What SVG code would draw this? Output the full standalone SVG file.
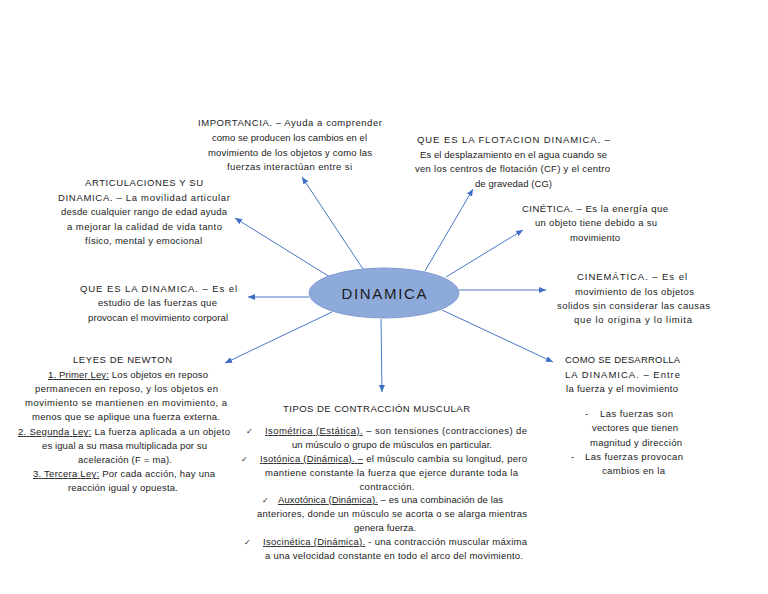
<svg xmlns="http://www.w3.org/2000/svg" width="768" height="594" viewBox="0 0 768 594">
<style>
.t{font-family:"Liberation Sans",Arial,sans-serif;font-size:9.5px;fill:#222;text-anchor:middle}
.s{text-anchor:start}
.u{text-decoration:underline}
.ck{font-family:"DejaVu Sans",sans-serif;font-size:8px;fill:#222}
.c{stroke:#4a76c6;stroke-width:1;fill:none;marker-end:url(#ah)}
</style>
<defs>
<marker id="ah" markerUnits="userSpaceOnUse" markerWidth="8" markerHeight="6" refX="7" refY="3" orient="auto">
<path d="M0,0 L7,3 L0,6 z" fill="#3f6fc4"/>
</marker>
</defs>
<rect width="768" height="594" fill="#fff"/>
<g id="connectors">
<line class="c" x1="363" y1="269" x2="302" y2="177"/>
<line class="c" x1="330" y1="277" x2="235" y2="218"/>
<line class="c" x1="309" y1="297" x2="248" y2="297"/>
<line class="c" x1="332" y1="312" x2="225" y2="363"/>
<line class="c" x1="381" y1="319" x2="382" y2="392"/>
<line class="c" x1="425" y1="271" x2="473" y2="189"/>
<line class="c" x1="446" y1="277" x2="523" y2="230"/>
<line class="c" x1="459" y1="290" x2="546" y2="290"/>
<line class="c" x1="442" y1="310" x2="553" y2="362"/>
</g>
<g id="center">
<ellipse cx="384" cy="293" rx="75" ry="25" fill="#8eaadb" stroke="#7f9bd0" stroke-width="1"/>
<text x="384" y="299" style="font-family:'Liberation Sans',Arial,sans-serif;font-size:15px;fill:#1a1a1a;text-anchor:middle" textLength="85">DINAMICA</text>
</g>
<g id="importancia">
<text class="t" x="290" y="126" textLength="184">IMPORTANCIA.  – Ayuda a comprender</text>
<text class="t" x="289.5" y="141" textLength="155">como se producen los cambios en el</text>
<text class="t" x="290" y="156" textLength="164">movimiento de los objetos y como las</text>
<text class="t" x="289.5" y="170" textLength="125">fuerzas interactúan entre si</text>
</g>
<g id="flotacion">
<text class="t" x="513.5" y="143" textLength="193">QUE ES LA FLOTACION DINAMICA.  –</text>
<text class="t" x="513.5" y="158" textLength="187">Es el desplazamiento en el agua cuando se</text>
<text class="t" x="512.5" y="172" textLength="195">ven los centros de flotación (CF) y el centro</text>
<text class="t" x="513.5" y="187" textLength="77">de gravedad (CG)</text>
</g>
<g id="articulaciones">
<text class="t" x="144" y="186" textLength="118">ARTICULACIONES Y SU</text>
<text class="t" x="144" y="201" textLength="172">DINAMICA.  – La movilidad articular</text>
<text class="t" x="144" y="215" textLength="166">desde cualquier rango de edad ayuda</text>
<text class="t" x="144.5" y="230" textLength="155">a mejorar la calidad de vida tanto</text>
<text class="t" x="143.5" y="244" textLength="117">físico, mental y emocional</text>
</g>
<g id="cinetica">
<text class="t" x="595" y="212" textLength="146">CINÉTICA.  – Es la energía que</text>
<text class="t" x="596" y="226" textLength="122">un objeto tiene debido a su</text>
<text class="t" x="595" y="241" textLength="50">movimiento</text>
</g>
<g id="que-es-dinamica">
<text class="t" x="158.5" y="292" textLength="157">QUE ES LA DINAMICA.  – Es el</text>
<text class="t" x="157.5" y="306" textLength="119">estudio de las fuerzas que</text>
<text class="t" x="158" y="321" textLength="140">provocan el movimiento corporal</text>
</g>
<g id="cinematica">
<text class="t" x="632" y="280" textLength="110">CINEMÁTICA.  – Es el</text>
<text class="t" x="634.5" y="295" textLength="119">movimiento de los objetos</text>
<text class="t" x="633.5" y="309" textLength="153">solidos sin considerar las causas</text>
<text class="t" x="633" y="323" textLength="118">que lo origina y lo limita</text>
</g>
<g id="leyes-newton">
<text class="t" x="122.5" y="363" textLength="99">LEYES DE NEWTON</text>
<text class="t" x="128" y="378" textLength="160"><tspan class="u">1. Primer Ley:</tspan> Los objetos en reposo</text>
<text class="t" x="126.5" y="392" textLength="183">permanecen en reposo, y los objetos en</text>
<text class="t" x="126" y="406" textLength="202">movimiento se mantienen en movimiento, a</text>
<text class="t" x="126" y="420" textLength="188">menos que se aplique una fuerza externa.</text>
<text class="t" x="124" y="435" textLength="212"><tspan class="u">2. Segunda Ley:</tspan> La fuerza aplicada a un objeto</text>
<text class="t" x="124.5" y="449" textLength="165">es igual a su masa multiplicada por su</text>
<text class="t" x="125" y="463" textLength="94">aceleración (F = ma).</text>
<text class="t" x="124" y="477" textLength="182"><tspan class="u">3. Tercera Ley:</tspan> Por cada acción, hay una</text>
<text class="t" x="123" y="491" textLength="110">reacción igual y opuesta.</text>
</g>
<g id="como-se-desarrolla">
<text class="t s" x="565" y="363" textLength="115">COMO SE DESARROLLA</text>
<text class="t s" x="565" y="378" textLength="115">LA DINAMICA.  – Entre</text>
<text class="t s" x="566" y="392" textLength="112">la fuerza y el movimiento</text>
<text class="t s" x="585" y="417">-</text>
<text class="t s" x="600" y="417" textLength="73">Las fuerzas son</text>
<text class="t s" x="592" y="431" textLength="86">vectores que tienen</text>
<text class="t s" x="590" y="446" textLength="92">magnitud y dirección</text>
<text class="t s" x="571" y="460">-</text>
<text class="t s" x="585" y="460" textLength="98">Las fuerzas provocan</text>
<text class="t s" x="602" y="474" textLength="63">cambios en la</text>
</g>
<g id="tipos-contraccion">
<text class="t" x="376.5" y="412" textLength="187">TIPOS DE CONTRACCIÓN MUSCULAR</text>
<text class="ck" x="246" y="434">✓</text>
<text class="t s" x="265" y="434" textLength="262"><tspan class="u">Isométrica (Estática).</tspan>  – son tensiones (contracciones) de</text>
<text class="t s" x="292" y="448" textLength="200">un músculo o grupo de músculos en particular.</text>
<text class="ck" x="241" y="462">✓</text>
<text class="t s" x="260" y="462" textLength="267"><tspan class="u">Isotónica (Dinámica).  –</tspan>  el músculo cambia su longitud, pero</text>
<text class="t s" x="265" y="476" textLength="253">mantiene constante la fuerza que ejerce durante toda la</text>
<text class="t" x="387" y="490" textLength="55">contracción.</text>
<text class="ck" x="262" y="503">✓</text>
<text class="t s" x="278" y="503" textLength="225"><tspan class="u">Auxotónica (Dinámica).</tspan>  – es una combinación de las</text>
<text class="t s" x="257" y="517" textLength="270">anteriores, donde un músculo se acorta o se alarga mientras</text>
<text class="t" x="385" y="531" textLength="62">genera fuerza.</text>
<text class="ck" x="244" y="545">✓</text>
<text class="t s" x="263" y="545" textLength="264"><tspan class="u">Isocinética (Dinámica).</tspan>  - una contracción muscular máxima</text>
<text class="t s" x="265" y="559" textLength="258">a una velocidad constante en todo el arco del movimiento.</text>
</g>
</svg>
